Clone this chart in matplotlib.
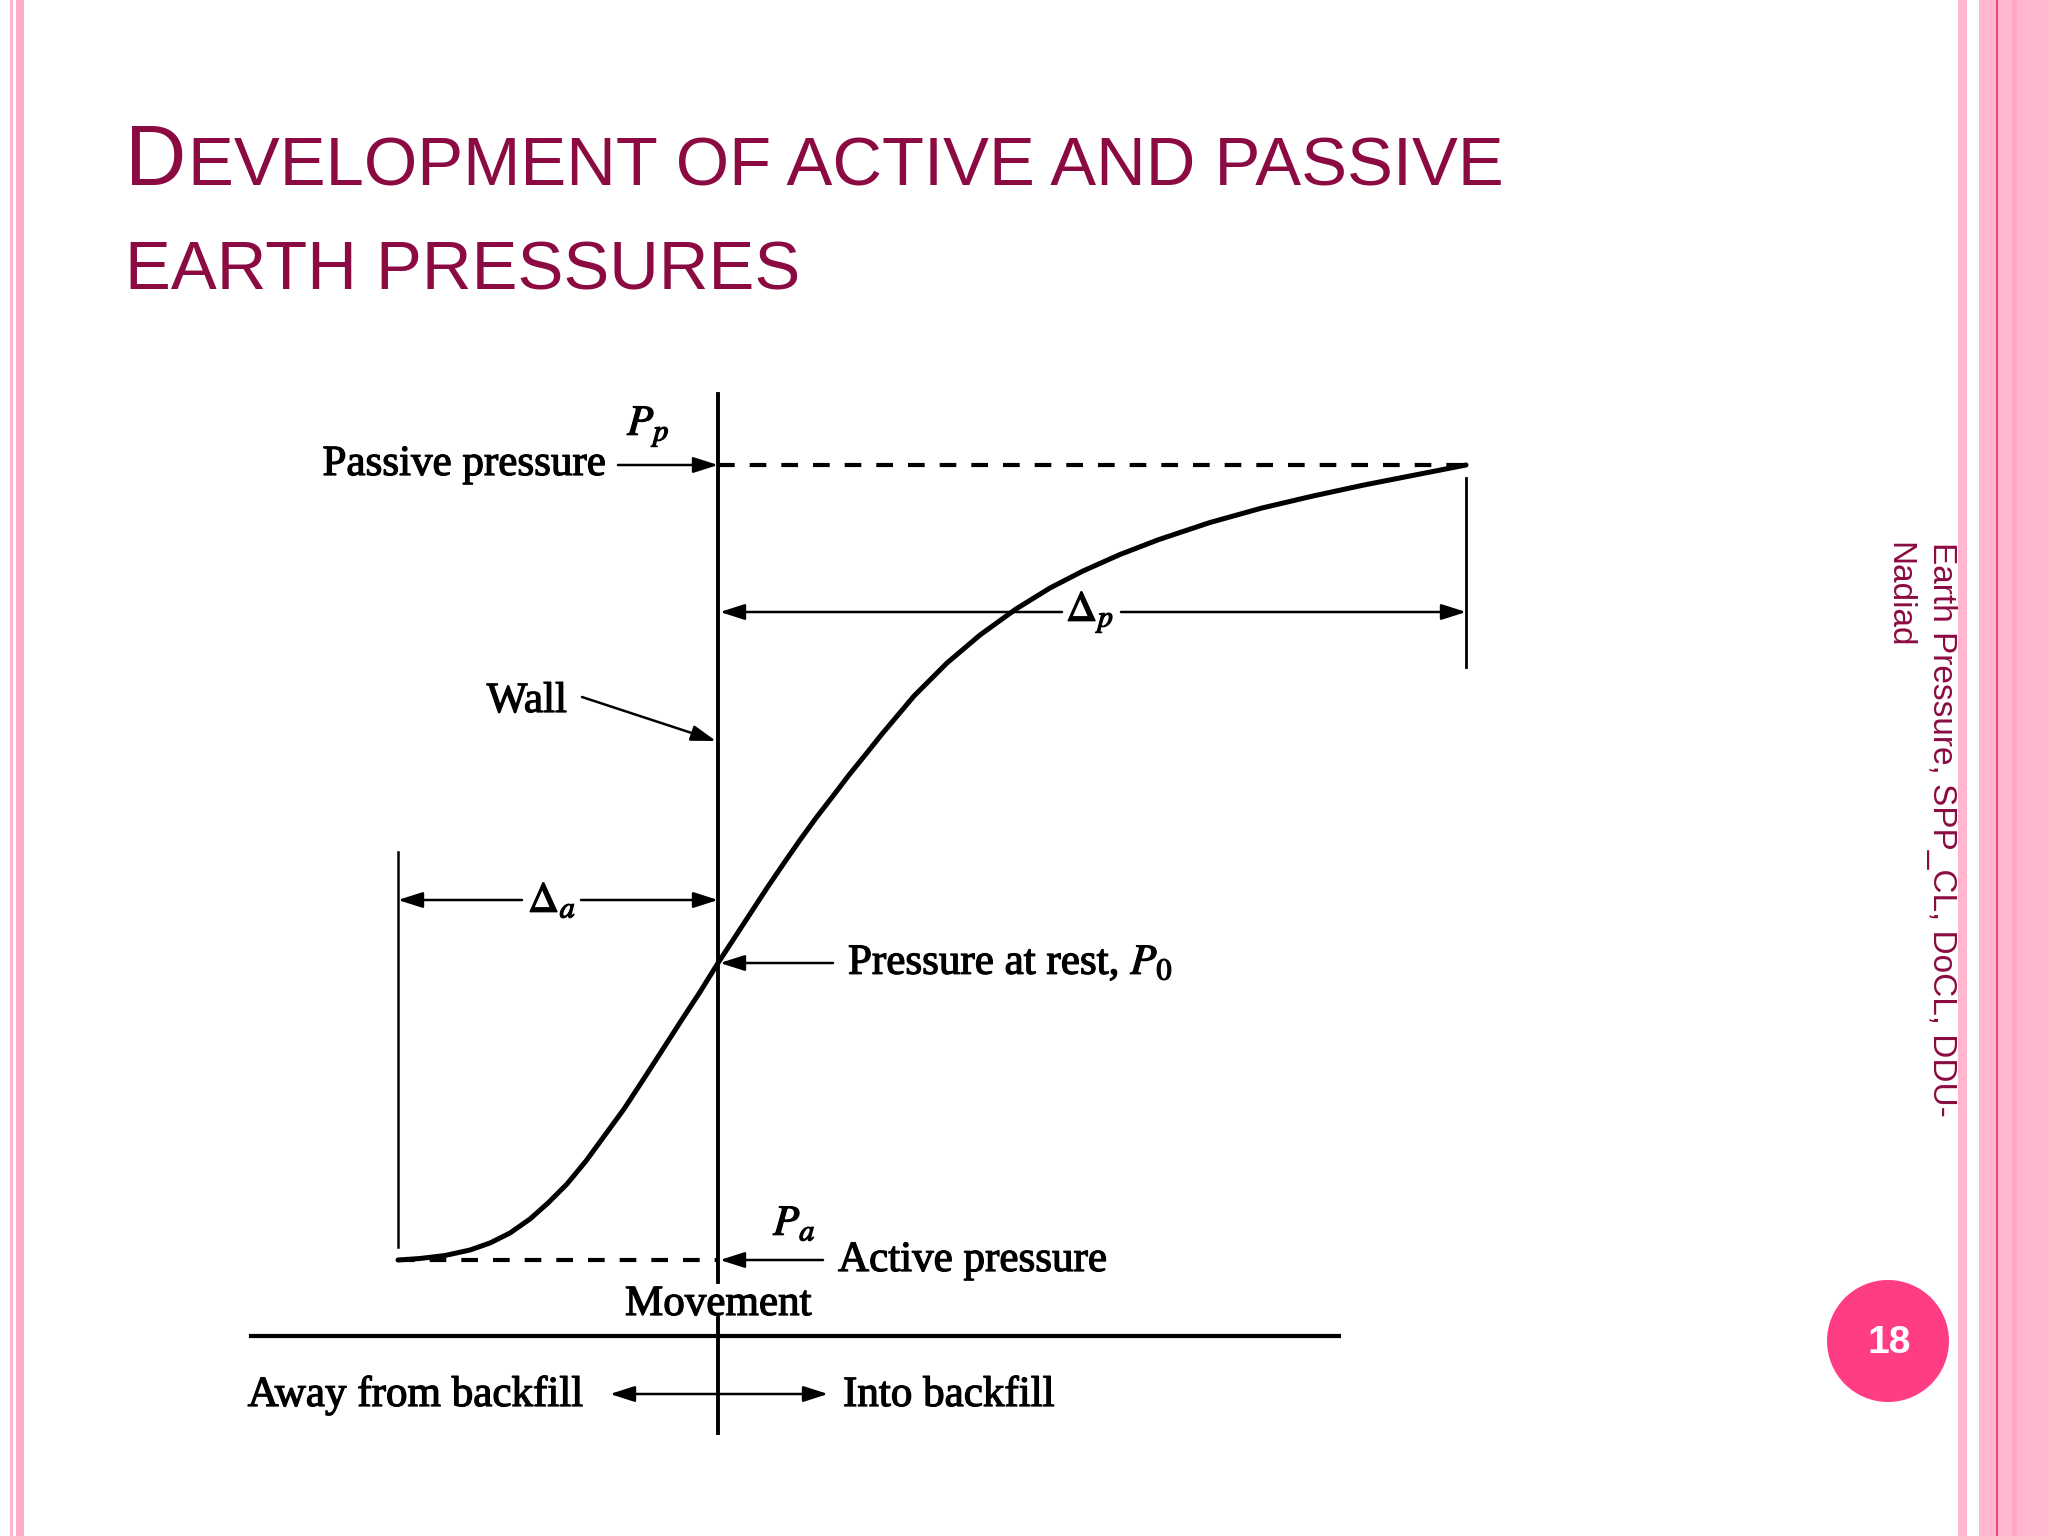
import numpy as np
import matplotlib
matplotlib.use("Agg")
import matplotlib.pyplot as plt
import matplotlib.patheffects as pe
from matplotlib.patches import Circle, Rectangle

plt.rcParams['mathtext.fontset'] = 'stix'

# --- data (slide pixel units: x to the right, y downwards) ---
title_line1_cap = "D"
title_line1_rest = "EVELOPMENT OF ACTIVE AND PASSIVE"
title_line2 = "EARTH PRESSURES"
side_note = ["Earth Pressure, SPP_CL, DoCL, DDU-", "Nadiad"]
slide_number = "18"

# pressure vs. wall movement curve
curve_x = [398, 420, 445, 470, 490, 510, 530, 548, 567, 586, 605, 624, 643, 663,
           681, 700, 718, 735, 750, 767, 784, 800, 816, 833, 849, 866, 882, 898,
           914, 947, 980, 1016, 1050, 1083, 1120, 1159, 1210, 1262, 1313, 1364,
           1415, 1466]
curve_y = [1260, 1258.5, 1255.5, 1250, 1243, 1233, 1219, 1203, 1184, 1161, 1135,
           1109, 1080, 1049, 1021, 992, 963, 937, 914, 888, 863, 840, 818, 796,
           775, 754, 734, 715, 696, 663, 635, 609, 588, 571, 554.5, 539.5, 522.5,
           508, 496, 485, 475, 465]

wall_x = 718
p_passive_y = 465
p_rest_y = 963
p_active_y = 1260
delta_a_left_x = 398
delta_p_right_x = 1466

labels_left = {"Passive pressure": (605, 475), "Wall": (567, 712),
               "Away from backfill": (583, 1406)}
labels_right = {"Pressure at rest, $P_0$": (848, 974), "Active pressure": (838, 1271),
                "Into backfill": (843, 1406), "$P_p$": (627, 435), "$P_a$": (773, 1235)}

TITLE_C = '#8B0A42'
PINK = '#FFB6CE'


def main():
    fig = plt.figure(figsize=(20.48, 15.36), dpi=100)
    ax = fig.add_axes([0, 0, 1, 1])
    ax.set_xlim(0, 2048)
    ax.set_ylim(1536, 0)
    ax.axis('off')

    # slide borders
    ax.add_patch(Rectangle((10, 0), 3, 1536, color='#FBB4CB', lw=0))
    ax.add_patch(Rectangle((16, 0), 8, 1536, color='#FFAAC8', lw=0))
    ax.add_patch(Rectangle((1958, 0), 9, 1536, color=PINK, lw=0))
    ax.add_patch(Rectangle((1979, 0), 69, 1536, color=PINK, lw=0))
    ax.add_patch(Rectangle((2012, 0), 5, 1536, color='#FFA6C4', lw=0))
    ax.add_patch(Rectangle((1996, 0), 2, 1536, color='#E8457F', lw=0))

    # title (small caps look)
    fig.canvas.draw()
    r = fig.canvas.get_renderer()
    t = ax.text(125, 185, title_line1_cap, fontsize=61, color=TITLE_C,
                family='Liberation Sans', va='baseline')
    bb = t.get_window_extent(renderer=r)
    x_next = ax.transData.inverted().transform((bb.x1, 0))[0]
    ax.text(x_next + 2, 185, title_line1_rest, fontsize=49.5, color=TITLE_C,
            family='Liberation Sans', va='baseline')
    ax.text(125, 289, title_line2, fontsize=49.5, color=TITLE_C,
            family='Liberation Sans', va='baseline')

    # side note
    ax.text(1933, 542, side_note[0], rotation=-90, rotation_mode='anchor',
            ha='left', va='baseline', fontsize=24, color=TITLE_C, family='Liberation Sans')
    ax.text(1890, 542, side_note[1], rotation=-90, rotation_mode='anchor',
            ha='left', va='baseline', fontsize=24, color=TITLE_C, family='Liberation Sans')

    # slide number
    ax.add_patch(Circle((1888, 1341), 61, color='#FF3D85', lw=0))
    ax.text(1889, 1343, slide_number, ha='center', va='center', fontsize=28,
            fontweight='bold', color='white', family='Liberation Sans')

    # diagram
    k = 'black'
    ax.plot(curve_x, curve_y, color=k, lw=3.6, solid_capstyle='round', solid_joinstyle='round')
    ax.plot([wall_x, wall_x], [394, 1282], color=k, lw=2.8)
    ax.plot([wall_x, wall_x], [1318, 1433], color=k, lw=2.8)
    ax.plot([251, 1339], [1336, 1336], color=k, lw=3.0)

    dash = dict(color=k, lw=3.0, dashes=(4.0, 3.6))
    ax.plot([wall_x, delta_p_right_x], [p_passive_y, p_passive_y], **dash)
    ax.plot([delta_a_left_x, wall_x], [p_active_y, p_active_y], **dash)

    ax.plot([delta_a_left_x, delta_a_left_x], [852, 1247], color=k, lw=1.8)
    ax.plot([delta_p_right_x, delta_p_right_x], [478, 667], color=k, lw=2.0)

    def arrow(x0, y0, x1, y1, lw=1.8):
        ax.annotate('', xy=(x1, y1), xytext=(x0, y0),
                    arrowprops=dict(arrowstyle='-|>,head_length=0.75,head_width=0.24',
                                    mutation_scale=20, lw=lw, color=k,
                                    shrinkA=0, shrinkB=0))

    arrow(618, p_passive_y, wall_x, p_passive_y)
    arrow(823, p_active_y, wall_x + 2, p_active_y)
    arrow(833, p_rest_y, wall_x + 2, p_rest_y)
    arrow(582, 697, wall_x - 2, 741)
    arrow(1062, 612, wall_x + 2, 612)
    arrow(1121, 612, delta_p_right_x, 612)
    arrow(522, 900, delta_a_left_x, 900)
    arrow(581, 900, wall_x, 900)
    arrow(wall_x, 1394, 610, 1394)
    arrow(wall_x, 1394, 828, 1394)

    fs = 31
    bold = [pe.withStroke(linewidth=0.9, foreground=k)]
    for s, (x, y) in labels_left.items():
        ax.text(x, y, s, ha='right', va='baseline', fontsize=fs, family='Liberation Serif',
                path_effects=bold)
    for s, (x, y) in labels_right.items():
        ax.text(x, y, s, ha='left', va='baseline', fontsize=fs, family='Liberation Serif',
                path_effects=bold)
    ax.text(wall_x, 1315, "Movement", ha='center', va='baseline', fontsize=fs,
            family='Liberation Serif', path_effects=bold)
    ax.text(552, 900, r'$\Delta_a$', ha='center', va='center', fontsize=fs, path_effects=bold)
    ax.text(1090, 612, r'$\Delta_p$', ha='center', va='center', fontsize=fs, path_effects=bold)

    fig.savefig('out.png', dpi=100, facecolor='white')


if __name__ == "__main__":
    main()
